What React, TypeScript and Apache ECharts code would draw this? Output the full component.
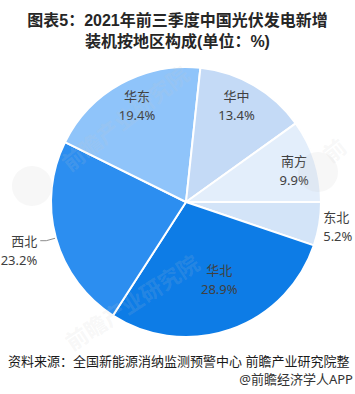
import React, { useEffect, useRef } from 'react';
import * as echarts from 'echarts';

const categories = ['东北', '华北', '西北', '华东', '华中', '南方'];
const shares = [5.2, 28.9, 23.2, 19.4, 13.4, 9.9];
const titleLines = ['图表5：2021年前三季度中国光伏发电新增', '装机按地区构成(单位：%)'];
const sourceNote = '资料来源：全国新能源消纳监测预警中心 前瞻产业研究院整';
const credit = '@前瞻经济学人APP';
const watermarkText = '前瞻产业研究院';

const sliceColors: Record<string, string> = {
  东北: '#d3e4f8',
  华北: '#0d7ce6',
  西北: '#2c8ef0',
  华东: '#8fc4fa',
  华中: '#c4daf6',
  南方: '#e3eefb',
};

// label nudges (style only)
const labelNudge: Record<string, [number, number]> = {
  华北: [10, 11],
  华东: [-15, -35],
  华中: [15, -36],
  南方: [41, -10],
  东北: [0, 3],
};

const CJK = "'Noto Sans', 'Noto Sans CJK SC', sans-serif";
const TITLE_FONT = "'Liberation Sans', 'Noto Sans CJK SC', sans-serif";

export default function App() {
  const ref = useRef<HTMLDivElement>(null);

  useEffect(() => {
    if (!ref.current) return;
    const chart = echarts.init(ref.current, null, { renderer: 'svg' });

    const data = categories.map((name, i) => {
      const item: any = {
        name,
        value: shares[i],
        itemStyle: { color: sliceColors[name] },
      };
      if (name === '西北') {
        item.label = { position: 'outside', formatter: '\n{b}\n{c}%', distanceToLabelLine: 3 };
        item.labelLine = { show: true, length: 10, length2: 6, lineStyle: { color: '#8c8c8c', width: 1 } };
      } else if (name === '东北') {
        item.label = { position: 'outside', distanceToLabelLine: 4 };
        item.labelLine = { show: false, length: 0, length2: 0 };
      } else {
        item.label = { position: 'inside' };
        item.labelLine = { show: false };
      }
      return item;
    });

    const wmStyle = { fill: 'rgba(200,200,200,0.15)', fontSize: 22, fontWeight: 'bold', fontFamily: CJK, align: 'center', verticalAlign: 'middle' };

    chart.setOption({
      animation: false,
      backgroundColor: '#ffffff',
      title: {
        text: titleLines.join('\n'),
        left: 'center',
        top: 5,
        textStyle: {
          fontSize: 16,
          fontWeight: 'bold',
          color: '#262626',
          lineHeight: 21,
          fontFamily: TITLE_FONT,
        },
      },
      series: [
        {
          type: 'pie',
          center: [186, 202],
          radius: [0, 135],
          startAngle: 0,
          clockwise: true,
          avoidLabelOverlap: false,
          itemStyle: { borderColor: '#ffffff', borderWidth: 2 },
          label: {
            formatter: '{b}\n{c}%',
            color: '#404040',
            fontSize: 13,
            lineHeight: 19,
            fontFamily: CJK,
          },
          labelLayout: (params: any) => {
            const nudge = labelNudge[categories[params.dataIndex]];
            return nudge ? { dx: nudge[0], dy: nudge[1] } : {};
          },
          data,
        },
      ],
      graphic: [
        { type: 'circle', z: 100, shape: { cx: 32, cy: 186, r: 20 }, style: { fill: 'rgba(200,200,200,0.14)' } },
        { type: 'circle', z: 100, shape: { cx: 318, cy: 172, r: 20 }, style: { fill: 'rgba(200,200,200,0.14)' } },
        { type: 'text', z: 100, x: 125, y: 118, rotation: (38 * Math.PI) / 180, style: { ...wmStyle, text: watermarkText } },
        { type: 'text', z: 100, x: 132, y: 302, rotation: (33 * Math.PI) / 180, style: { ...wmStyle, text: watermarkText } },
        { type: 'text', z: 100, x: 334, y: 150, rotation: (38 * Math.PI) / 180, style: { ...wmStyle, text: '前' } },
        {
          type: 'text',
          x: 8,
          y: 361,
          style: { text: sourceNote, fontSize: 13, fill: '#1a1a1a', fontFamily: CJK, align: 'left', verticalAlign: 'middle' },
        },
        {
          type: 'text',
          x: 353,
          y: 379,
          style: { text: credit, fontSize: 13, fill: '#333333', fontFamily: CJK, align: 'right', verticalAlign: 'middle' },
        },
      ],
    });

    return () => chart.dispose();
  }, []);

  return <div ref={ref} style={{ position: 'absolute', left: 0, top: 0, width: 355, height: 394 }} />;
}
